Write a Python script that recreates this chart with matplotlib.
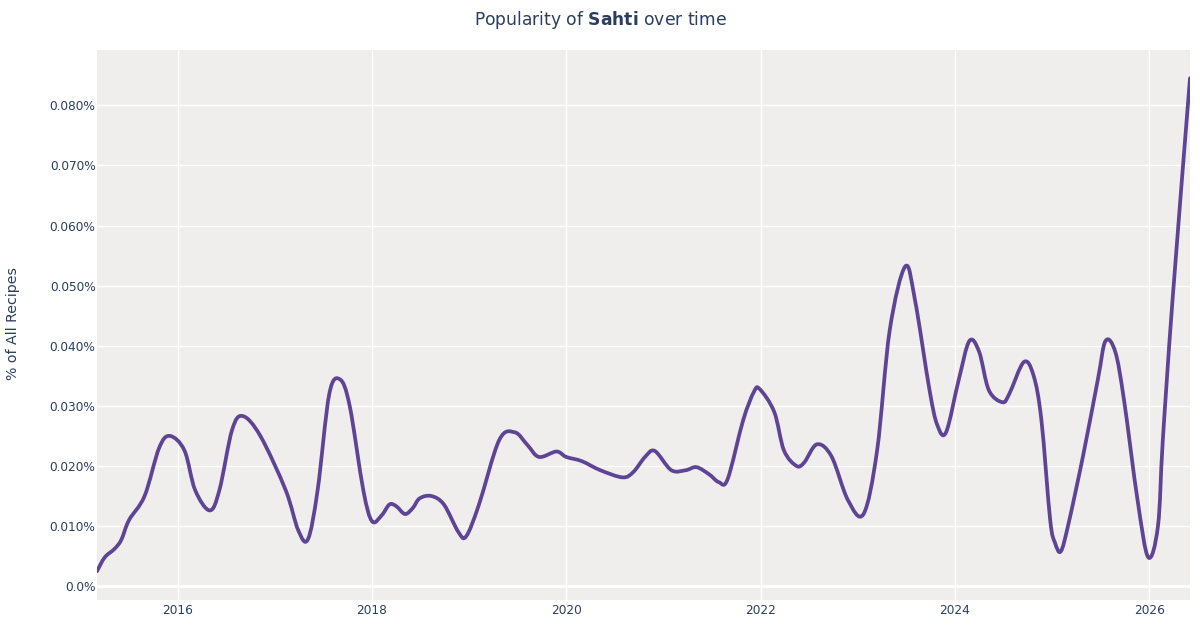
import numpy as np
import matplotlib
matplotlib.use('Agg')
import matplotlib.pyplot as plt
import matplotlib.dates as mdates
from matplotlib.path import Path
from matplotlib.patches import PathPatch
from datetime import datetime, timedelta

plt.rcParams['font.family'] = ['DejaVu Sans']

# 数据（十进制年份, 占全部配方的百分比）
years = [2015.17, 2015.25, 2015.35, 2015.42, 2015.50, 2015.66, 2015.81, 2015.92,
         2016.07, 2016.18, 2016.33, 2016.43, 2016.56, 2016.67, 2016.85, 2017.11,
         2017.24, 2017.34, 2017.44, 2017.56, 2017.67, 2017.77, 2017.91, 2018.00,
         2018.10, 2018.18, 2018.25, 2018.34, 2018.42, 2018.49, 2018.61, 2018.74,
         2018.89, 2018.97, 2019.10, 2019.31, 2019.47, 2019.60, 2019.72, 2019.90,
         2020.00, 2020.16, 2020.35, 2020.58, 2020.69, 2020.81, 2020.91, 2021.08,
         2021.23, 2021.34, 2021.47, 2021.57, 2021.66, 2021.82, 2021.93, 2021.99,
         2022.14, 2022.24, 2022.37, 2022.45, 2022.58, 2022.73, 2022.90, 2023.06,
         2023.20, 2023.33, 2023.49, 2023.59, 2023.74, 2023.82, 2023.91, 2024.04,
         2024.15, 2024.25, 2024.35, 2024.49, 2024.56, 2024.71, 2024.81, 2024.89,
         2024.98, 2025.03, 2025.09, 2025.17, 2025.32, 2025.47, 2025.55, 2025.65,
         2025.74, 2025.88, 2025.99, 2026.09, 2026.14, 2026.24, 2026.42]
share = [0.0025, 0.0048, 0.0062, 0.0077, 0.0110, 0.0150, 0.0230, 0.0250,
         0.0226, 0.0160, 0.0126, 0.0160, 0.0260, 0.0283, 0.0250, 0.0160,
         0.0093, 0.0078, 0.0160, 0.0320, 0.0344, 0.0300, 0.0160, 0.0108,
         0.0118, 0.0136, 0.0133, 0.0120, 0.0130, 0.0146, 0.0150, 0.0136,
         0.0090, 0.0083, 0.0135, 0.0243, 0.0256, 0.0235, 0.0215, 0.0224,
         0.0215, 0.0208, 0.0193, 0.0181, 0.0190, 0.0215, 0.0225, 0.0193,
         0.0193, 0.0198, 0.0186, 0.0173, 0.0178, 0.0276, 0.0323, 0.0328,
         0.0290, 0.0226, 0.0200, 0.0206, 0.0236, 0.0216, 0.0143, 0.0120,
         0.0226, 0.0426, 0.0532, 0.0476, 0.0326, 0.0268, 0.0256, 0.0343,
         0.0408, 0.0390, 0.0326, 0.0306, 0.0320, 0.0373, 0.0350, 0.0276,
         0.0110, 0.0072, 0.0058, 0.0105, 0.0218, 0.0343, 0.0408, 0.0390,
         0.0310, 0.0143, 0.0048, 0.0100, 0.0243, 0.0476, 0.0845]

y_ticks = [0.0, 0.01, 0.02, 0.03, 0.04, 0.05, 0.06, 0.07, 0.08]
y_tick_labels = ['0.0%', '0.010%', '0.020%', '0.030%', '0.040%',
                 '0.050%', '0.060%', '0.070%', '0.080%']
x_tick_years = [2016, 2018, 2020, 2022, 2024, 2026]


def year_to_num(y):
    yr = int(y)
    start = datetime(yr, 1, 1)
    days = (datetime(yr + 1, 1, 1) - start).days
    return mdates.date2num(start + timedelta(days=(y - yr) * days))


xs = np.array([year_to_num(y) for y in years])
ys = np.array(share)

# 平滑曲线（类似 plotly 的 spline 线型）：Catmull-Rom -> 三次贝塞尔
verts = [(xs[0], ys[0])]
codes = [Path.MOVETO]
n = len(xs)
s = 1 / 6
for i in range(n - 1):
    p0 = (xs[max(i - 1, 0)], ys[max(i - 1, 0)])
    p1 = (xs[i], ys[i])
    p2 = (xs[i + 1], ys[i + 1])
    p3 = (xs[min(i + 2, n - 1)], ys[min(i + 2, n - 1)])
    c1 = (p1[0] + (p2[0] - p0[0]) * s, p1[1] + (p2[1] - p0[1]) * s)
    c2 = (p2[0] - (p3[0] - p1[0]) * s, p2[1] - (p3[1] - p1[1]) * s)
    verts += [c1, c2, p2]
    codes += [Path.CURVE4] * 3

text_color = '#2a3f5f'
bg = '#efeeed'
line_color = '#5d4494'

fig = plt.figure(figsize=(12, 6.3), dpi=100)
ax = fig.add_axes([97 / 1200, 1 - 600 / 630, 1093 / 1200, 550 / 630])
ax.set_facecolor(bg)

ax.add_patch(PathPatch(Path(verts, codes), facecolor='none', edgecolor=line_color,
                       lw=2.7, capstyle='round', joinstyle='round', zorder=3))

ax.set_xlim(year_to_num(2015.17), year_to_num(2026.42))
ax.set_ylim(-0.0023, 0.0892)

ax.set_yticks(y_ticks)
ax.set_yticklabels(y_tick_labels)
ax.set_xticks([year_to_num(y) for y in x_tick_years])
ax.set_xticklabels([str(y) for y in x_tick_years])

ax.grid(True, color='white', lw=1, zorder=1)
ax.axhline(0, color='white', lw=2, zorder=2)
ax.set_axisbelow(True)
for sp in ax.spines.values():
    sp.set_visible(False)
ax.tick_params(length=0, colors=text_color, labelsize=8.7)
ax.tick_params(axis='y', pad=1)
ax.tick_params(axis='x', pad=3)

fig.text(13 / 1200, 1 - 324 / 630, '% of All Recipes', rotation=90, va='center', ha='center',
         color=text_color, fontsize=10.2)
fig.text(0.5, 1 - 20 / 630, r'Popularity of $\mathbf{Sahti}$ over time', ha='center',
         va='center', color=text_color, fontsize=12.3)

fig.savefig('out.png', dpi=100, facecolor='white')
